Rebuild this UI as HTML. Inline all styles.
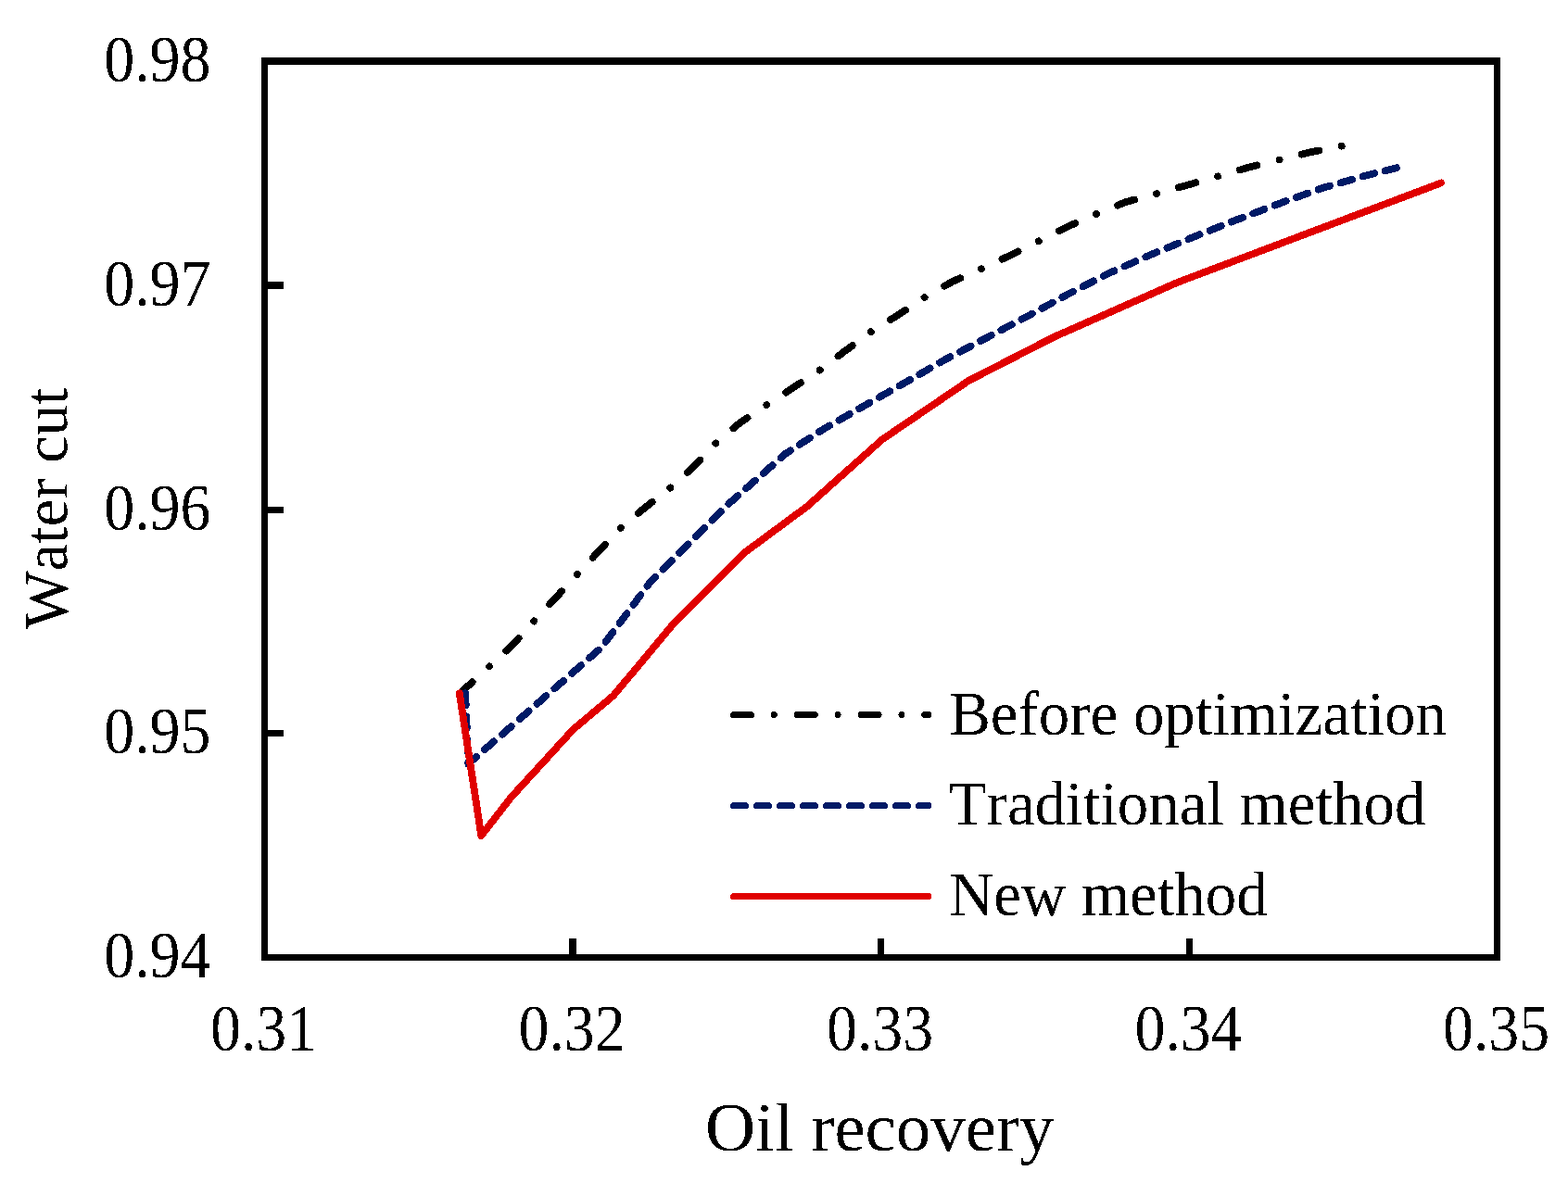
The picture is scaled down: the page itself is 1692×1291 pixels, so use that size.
<!DOCTYPE html>
<html lang="en">
<head>
<meta charset="utf-8">
<title>Water cut vs oil recovery</title>
<style>
  html, body { margin: 0; padding: 0; background: #ffffff; }
  body { width: 1692px; height: 1291px; overflow: hidden; }
  svg { display: block; }
  text { font-family: "Liberation Serif", serif; fill: #000000; font-kerning: none; filter: url(#hard); }
  .tick { font-size: 66.9px; }
  .leg { font-size: 66.9px; }
  .curve { fill: none; stroke-width: 7.8; stroke-linecap: round; stroke-linejoin: round; shape-rendering: crispEdges; }
  .key { fill: none; stroke-width: 7; stroke-linecap: round; shape-rendering: crispEdges; }
</style>
</head>
<body>
<svg width="1692" height="1291" viewBox="0 0 1692 1291">
  <rect x="0" y="0" width="1692" height="1291" fill="#ffffff"/>
  <defs>
    <filter id="hard" x="-5%" y="-20%" width="110%" height="140%" color-interpolation-filters="sRGB">
      <feComponentTransfer><feFuncA type="discrete" tableValues="0 0 1 1"/></feComponentTransfer>
    </filter>
  </defs>
  <!-- data series -->
  <polyline class="curve" points="495.6,749 528.25,719.3 552.7,696.6 576.3,670.3 599.4,645.5 622.8,620 646.2,594.9 669.8,569.8 696,548 723.4,526.5 749.1,503.4 772.4,478.4 798.5,456.4 827,437.3 855.6,418.6 884,400 911,379.5 940,358 969.8,339.6 997.6,321 1027.4,304.1 1058.8,290.4 1090,275.7 1120.5,260.6 1151.25,245 1182.5,231.25 1215,218 1248,209.2 1281.2,199.8 1314.2,190.4 1347.3,180.7 1380.5,172.5 1413.9,164.3 1447.9,157.6" stroke="#000000" stroke-dasharray="19 24.875 0.01 24.875"/>
  <polyline class="curve" points="502.2,748.3 505.3,824.6 649,699 701.7,628.3 785,545 848,489.5 888.9,463 932.4,438.1 975.5,413.7 1019.4,388.4 1063.4,365.3 1107.2,342.2 1151.2,318.3 1195.9,295.2 1242.1,274.8 1288.3,255.7 1334.9,237.1 1381.6,219.3 1428.4,202.5 1476.5,188.8 1507,181.2" stroke="#001a66" stroke-dasharray="13 12"/>
  <polyline class="curve" points="495.8,748.3 519.3,902 551.3,860.9 618.6,787.3 661.8,751 728,671.8 803.4,596.6 870.5,547 952.1,474.3 1045.2,411 1137.4,363.7 1271.2,304.6 1555,197.5" stroke="#e00000"/>
  <!-- plot frame and tick marks -->
  <path d="M282 62H1619V1037H282Z M289 70V1030H1612V70Z" fill="#000000" fill-rule="evenodd"/>
  <rect x="614" y="1013" width="8" height="18" fill="#000000"/>
  <rect x="947" y="1013" width="7" height="18" fill="#000000"/>
  <rect x="1280" y="1013" width="7" height="18" fill="#000000"/>
  <rect x="288" y="304" width="18" height="8" fill="#000000"/>
  <rect x="288" y="547" width="18" height="7" fill="#000000"/>
  <rect x="288" y="788" width="18" height="7" fill="#000000"/>
  <!-- tick labels -->
  <text class="tick" transform="translate(284.6 1133.9) scale(0.985 1.06)" text-anchor="middle">0.31</text>
  <text class="tick" transform="translate(617.1 1133.9) scale(0.985 1.06)" text-anchor="middle">0.32</text>
  <text class="tick" transform="translate(949.6 1133.9) scale(0.985 1.06)" text-anchor="middle">0.33</text>
  <text class="tick" transform="translate(1282.1 1133.9) scale(0.985 1.06)" text-anchor="middle">0.34</text>
  <text class="tick" transform="translate(1614.6 1133.9) scale(0.985 1.06)" text-anchor="middle">0.35</text>
  <text class="tick" transform="translate(227.5 87.9) scale(0.985 1.06)" text-anchor="end">0.98</text>
  <text class="tick" transform="translate(227.5 329.8) scale(0.985 1.06)" text-anchor="end">0.97</text>
  <text class="tick" transform="translate(227.5 571.6) scale(0.985 1.06)" text-anchor="end">0.96</text>
  <text class="tick" transform="translate(227.5 813.4) scale(0.985 1.06)" text-anchor="end">0.95</text>
  <text class="tick" transform="translate(227.5 1054.9) scale(0.985 1.06)" text-anchor="end">0.94</text>
  <!-- axis titles -->
  <text x="949.2" y="1241.7" text-anchor="middle" font-size="74.9">Oil recovery</text>
  <text transform="translate(72.4 548.8) rotate(-90)" text-anchor="middle" font-size="66.6">Water cut</text>
  <!-- legend -->
  <line class="key" x1="791.5" y1="771.5" x2="1001.7" y2="771.5" stroke="#000000" stroke-dasharray="19 24.875 0.01 24.875"/>
  <line class="key" x1="791.5" y1="869.5" x2="1001.7" y2="869.5" stroke="#001a66" stroke-dasharray="13 12"/>
  <line class="key" x1="791.5" y1="967.5" x2="1001.7" y2="967.5" stroke="#e00000"/>
  <text class="leg" x="1024.2" y="792.9">Before optimization</text>
  <text class="leg" x="1023.8" y="890.3">Traditional method</text>
  <text class="leg" x="1024.0" y="988.1">New method</text>
</svg>
</body>
</html>
